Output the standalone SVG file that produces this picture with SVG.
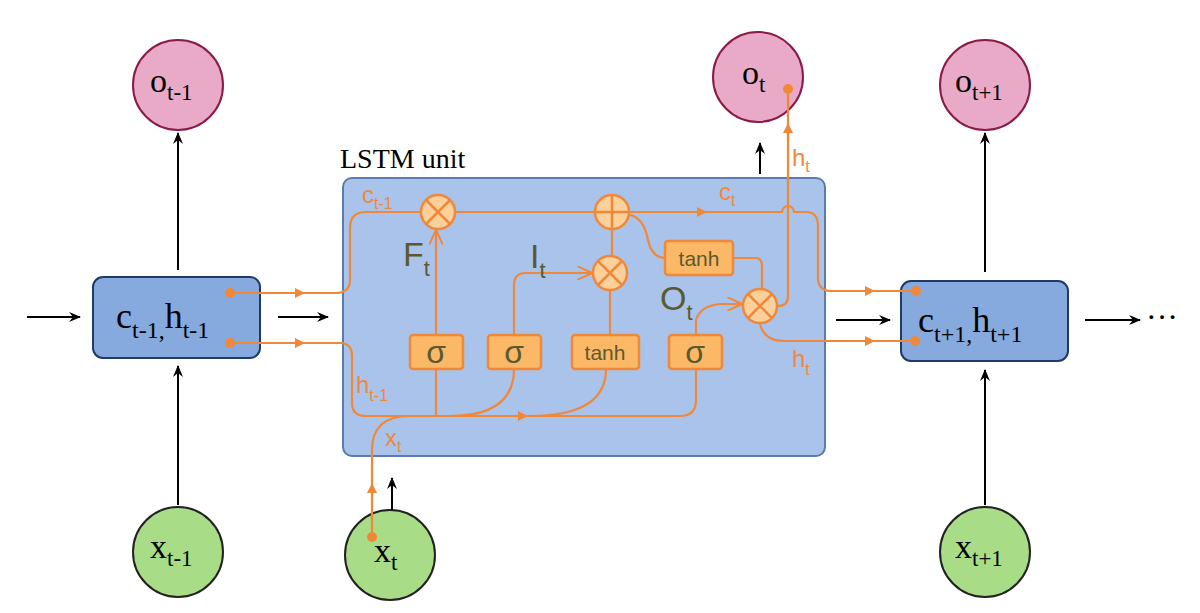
<svg xmlns="http://www.w3.org/2000/svg" width="1200" height="613" viewBox="0 0 1200 613">
<defs>
<marker id="ab" markerWidth="12" markerHeight="10" refX="11" refY="5" orient="auto" markerUnits="userSpaceOnUse"><path d="M0,0 L12,5 L0,10 L4,5 Z" fill="#000"/></marker>
<marker id="ao" markerWidth="10" markerHeight="10" refX="5" refY="5" orient="auto" markerUnits="userSpaceOnUse"><path d="M0,0 L10,5 L0,10 Z" fill="#f0883a"/></marker>
<marker id="aopen" markerWidth="16" markerHeight="14" refX="15" refY="7" orient="auto" markerUnits="userSpaceOnUse"><path d="M0,0 L15,7 L0,14" fill="none" stroke="#f0883a" stroke-width="2"/></marker>
</defs>
<style>
.blk{stroke:#000;stroke-width:2;fill:none}
.or{stroke:#f0883a;stroke-width:2.2;fill:none}
.ser{font-family:"Liberation Serif","Times New Roman",serif}
.pink{fill:#e8aac6;stroke:#8b1a48;stroke-width:2}
.green{fill:#a8dc86;stroke:#222;stroke-width:2}
.gate{fill:#fbb867;stroke:#f0883a;stroke-width:2.5}
.op{fill:#fcd09a;stroke:#f0883a;stroke-width:2.5}
.gl{fill:#5b5a2e;font-family:"Liberation Sans",sans-serif}
.ol{fill:#f0883a;font-family:"Liberation Sans",sans-serif}
</style>
<rect width="1200" height="613" fill="#fff"/>
<g id="lstm">
<rect x="343" y="178" width="482" height="278" rx="9" fill="#a9c3ea" stroke="#5b7bb0" stroke-width="2"/>
<text x="340" y="168" font-family="Liberation Serif, serif" font-size="28">LSTM unit</text>
</g>
<g id="state-prev"><rect x="93" y="277" width="167" height="81" rx="10" fill="#86a9de" stroke="#1f3a66" stroke-width="2"/>
<text x="116" y="328" class="ser" font-size="36">c<tspan font-size="24" dy="10">t-1,</tspan><tspan dy="-10">h</tspan><tspan font-size="24" dy="10">t-1</tspan></text></g>
<g id="state-next"><rect x="901" y="281" width="167" height="80" rx="10" fill="#86a9de" stroke="#1f3a66" stroke-width="2"/>
<text x="918" y="332" class="ser" font-size="36">c<tspan font-size="24" dy="10">t+1,</tspan><tspan dy="-10">h</tspan><tspan font-size="24" dy="10">t+1</tspan></text></g>
<g id="o-prev"><circle cx="178" cy="85" r="45" class="pink"/><text x="150" y="92" class="ser" font-size="34">o<tspan font-size="23" dy="8">t-1</tspan></text></g>
<g id="o-t"><circle cx="758" cy="77" r="45" class="pink"/><text x="742" y="84" class="ser" font-size="34">o<tspan font-size="23" dy="8">t</tspan></text></g>
<g id="o-next"><circle cx="985" cy="85" r="45" class="pink"/><text x="955" y="92" class="ser" font-size="34">o<tspan font-size="23" dy="8">t+1</tspan></text></g>
<g id="x-prev"><circle cx="178" cy="552" r="45" class="green"/><text x="150" y="558" class="ser" font-size="34">x<tspan font-size="23" dy="8">t-1</tspan></text></g>
<g id="x-t"><circle cx="390" cy="555" r="45" class="green"/><text x="374" y="562" class="ser" font-size="34">x<tspan font-size="23" dy="8">t</tspan></text></g>
<g id="x-next"><circle cx="985" cy="552" r="45" class="green"/><text x="955" y="558" class="ser" font-size="34">x<tspan font-size="23" dy="8">t+1</tspan></text></g>
<g id="connectors">
<line x1="27" y1="317" x2="80" y2="317" class="blk" marker-end="url(#ab)"/>
<line x1="278" y1="317" x2="328" y2="317" class="blk" marker-end="url(#ab)"/>
<line x1="836" y1="320" x2="890" y2="320" class="blk" marker-end="url(#ab)"/>
<line x1="1085" y1="320" x2="1140" y2="320" class="blk" marker-end="url(#ab)"/>
<line x1="178" y1="270" x2="178" y2="133" class="blk" marker-end="url(#ab)"/>
<line x1="178" y1="505" x2="178" y2="366" class="blk" marker-end="url(#ab)"/>
<line x1="985" y1="272" x2="985" y2="133" class="blk" marker-end="url(#ab)"/>
<line x1="985" y1="505" x2="985" y2="370" class="blk" marker-end="url(#ab)"/>
<line x1="760" y1="174" x2="760" y2="143" class="blk" marker-end="url(#ab)"/>
<line x1="392" y1="510" x2="392" y2="478" class="blk" marker-end="url(#ab)"/>
<text x="1146" y="328" class="ser" font-size="32">···</text>
<path d="M230,293 H335 Q350,293 350,280 V228 Q350,212 366,212 H420" class="or"/>
<path d="M230,293 H300" class="or" marker-end="url(#ao)"/>
<path d="M230,343 H300" class="or" marker-end="url(#ao)"/>
<path d="M300,343 H340 Q352,343 352,356 V403 Q352,416 366,416 H680 Q696,416 696,400 V369" class="or"/>
<path d="M366,416 H523" class="or" marker-end="url(#ao)"/>
<path d="M372,537 V488" class="or" marker-end="url(#ao)"/>
<path d="M372,490 V450 Q372,416 410,416" class="or"/>
<path d="M436,416 V369 M514,369 Q514,416 450,416 M606,369 Q606,416 530,416" class="or"/>
<path d="M436,335 V230" class="or" marker-end="url(#aopen)"/>
<path d="M456,212 H594 M630,212 H700" class="or"/>
<path d="M630,212 H702" class="or" marker-end="url(#ao)"/>
<path d="M702,212 H782 A6,6 0 0 1 794,212 H806 Q818,212 818,226 V278 Q818,291 832,291 H916" class="or"/>
<path d="M832,291 H870" class="or" marker-end="url(#ao)"/>
<path d="M612,230 V255 M610,291 V335" class="or"/>
<path d="M514,335 V285 Q514,273 526,273 H592" class="or"/>
<path d="M540,273 H592" class="or" marker-end="url(#aopen)"/>
<path d="M630,215 Q644,218 648,240 Q652,258 665,258" class="or"/>
<path d="M733,258 H756 Q762,258 762,266 V288" class="or"/>
<path d="M696,335 V320 Q700,306 720,304 H742" class="or" marker-end="url(#aopen)"/>
<path d="M778,306 Q788,306 788,296 V89" class="or"/>
<path d="M788,140 V128" class="or" marker-end="url(#ao)"/>
<path d="M760,324 Q764,341 784,341 H915" class="or"/>
<path d="M784,341 H870" class="or" marker-end="url(#ao)"/>
<circle cx="230" cy="293" r="5" fill="#f0883a"/><circle cx="230" cy="343" r="5" fill="#f0883a"/>
<circle cx="916" cy="291" r="5" fill="#f0883a"/><circle cx="915" cy="341" r="5" fill="#f0883a"/>
<circle cx="372" cy="537" r="5" fill="#f0883a"/><circle cx="788" cy="89" r="5" fill="#f0883a"/>
</g>
<g id="forget-mult"><circle cx="438" cy="212" r="17" class="op"/><path d="M426,200 L450,224 M450,200 L426,224" stroke="#f0883a" stroke-width="2.5"/></g>
<g id="add"><circle cx="612" cy="212" r="17" class="op"/><path d="M595,212 H629 M612,195 V229" stroke="#f0883a" stroke-width="2.5"/></g>
<g id="input-mult"><circle cx="610" cy="273" r="17" class="op"/><path d="M598,261 L622,285 M622,261 L598,285" stroke="#f0883a" stroke-width="2.5"/></g>
<g id="output-mult"><circle cx="760" cy="306" r="17" class="op"/><path d="M748,294 L772,318 M772,294 L748,318" stroke="#f0883a" stroke-width="2.5"/></g>
<g id="tanh-c"><rect x="665" y="241" width="68" height="34" rx="3" class="gate"/><text x="699" y="266" text-anchor="middle" class="gl" font-size="21">tanh</text></g>
<g id="sig-f"><rect x="410" y="335" width="53" height="34" rx="3" class="gate"/><text x="436" y="363" text-anchor="middle" class="gl" font-size="32">σ</text></g>
<g id="sig-i"><rect x="488" y="335" width="53" height="34" rx="3" class="gate"/><text x="514" y="363" text-anchor="middle" class="gl" font-size="32">σ</text></g>
<g id="tanh-g"><rect x="572" y="335" width="67" height="34" rx="3" class="gate"/><text x="605" y="360" text-anchor="middle" class="gl" font-size="21">tanh</text></g>
<g id="sig-o"><rect x="669" y="335" width="53" height="34" rx="3" class="gate"/><text x="695" y="363" text-anchor="middle" class="gl" font-size="32">σ</text></g>
<g id="labels">
<text x="403" y="266" class="gl" font-size="34">F<tspan font-size="22" dy="10">t</tspan></text>
<text x="530" y="268" class="gl" font-size="34">I<tspan font-size="22" dy="10">t</tspan></text>
<text x="660" y="310" class="gl" font-size="34">O<tspan font-size="22" dy="10">t</tspan></text>
<text x="362" y="203" class="ol" font-size="24">c<tspan font-size="16" dy="6">t-1</tspan></text>
<text x="719" y="200" class="ol" font-size="24">c<tspan font-size="16" dy="6">t</tspan></text>
<text x="356" y="393" class="ol" font-size="24">h<tspan font-size="16" dy="8">t-1</tspan></text>
<text x="385" y="446" class="ol" font-size="24">x<tspan font-size="16" dy="6">t</tspan></text>
<text x="792" y="166" class="ol" font-size="24">h<tspan font-size="16" dy="6">t</tspan></text>
<text x="792" y="367" class="ol" font-size="24">h<tspan font-size="16" dy="8">t</tspan></text>
</g>
</svg>
